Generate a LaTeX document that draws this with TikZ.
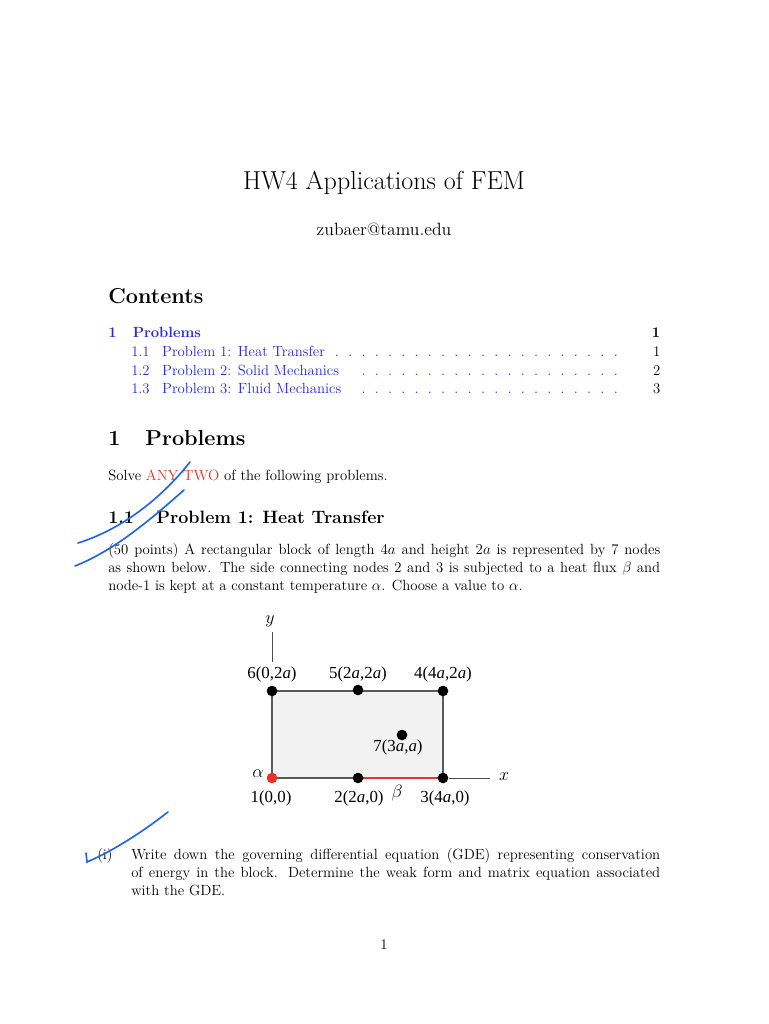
\documentclass[tikz,border=0pt]{standalone}
\usepackage{fontspec}
\newfontfamily\figfont{Liberation Serif}
\definecolor{lnk}{RGB}{40,40,230}
\definecolor{ink}{RGB}{30,100,230}
\definecolor{rd}{RGB}{235,50,40}
\newcommand{\nf}{\fontsize{11.8}{14}\selectfont}
\newcommand{\jl}[1]{\hbox to 441.6pt{#1}}
\newcommand{\jm}[1]{\hbox to 423.2pt{#1}}
\newcommand{\dotl}{\leaders\hbox to 0.9em{\hss.\hss}\hfill}
\begin{document}
\begin{tikzpicture}[x=0.8pt,y=-0.8pt,
  txt/.style={anchor=base west,inner sep=0,font=\nf},
  dot/.style={circle,fill=black,inner sep=0,minimum size=8.5pt},
  flab/.style={font=\figfont\fontsize{13.5}{15}\selectfont,inner sep=0,anchor=base}]
\useasboundingbox[fill=white] (0,0) rectangle (768,1024);
\node[inner sep=0,anchor=base,font=\fontsize{20.8}{24}\selectfont] (title) at (384,190) {HW4 Applications of FEM};
\node[inner sep=0,anchor=base,font=\fontsize{14.2}{17}\selectfont] (mail) at (384,235) {zubaer@tamu.edu};
\node[txt,font=\fontsize{17.3}{20}\selectfont\bfseries] (cont) at (108,303) {Contents};
\node[txt,text=lnk] (t1) at (108,337) {\hbox to 441.6pt{\bfseries 1\hspace{13pt}Problems\hfill\color{black}1}};
\node[txt,text=lnk] (t2) at (131,356) {\hbox to 423.2pt{1.1\hspace{10pt}Problem 1: Heat Transfer\ \dotl\hbox to 2em{\hfill\color{black}1}}};
\node[txt,text=lnk] (t3) at (131,375) {\hbox to 423.2pt{1.2\hspace{10pt}Problem 2: Solid Mechanics\ \dotl\hbox to 2em{\hfill\color{black}2}}};
\node[txt,text=lnk] (t4) at (131,393) {\hbox to 423.2pt{1.3\hspace{10pt}Problem 3: Fluid Mechanics\ \dotl\hbox to 2em{\hfill\color{black}3}}};
\node[txt,font=\fontsize{17.3}{20}\selectfont\bfseries] (sec) at (108,445) {1\hspace{20pt}Problems};
\node[txt] (solve) at (108,480) {Solve \textcolor{rd}{ANY TWO} of the following problems.};
\node[txt,font=\fontsize{14.3}{17}\selectfont\bfseries] (sub) at (108,523) {1.1\hspace{18pt}Problem 1: Heat Transfer};
\node[txt] (p1) at (108,554) {\jl{(50 points) A rectangular block of length $4a$ and height $2a$ is represented by 7 nodes}};
\node[txt] (p2) at (108,572) {\jl{as shown below. The side connecting nodes 2 and 3 is subjected to a heat flux $\beta$ and}};
\node[txt] (p3) at (108,590) {node-1 is kept at a constant temperature $\alpha$. Choose a value to $\alpha$.};
% figure
\draw[gray!70!black,fill=gray!10,line width=0.9pt] (272,691) rectangle (443,778);
\coordinate (ytop) at (272,632); \coordinate (ybot) at (272,662);
\coordinate (xr) at (490,778);
\draw[gray!60!black,line width=0.7pt] (ytop) -- (ybot);
\node[flab,font=\fontsize{13.5}{15}\selectfont] (ylab) at (270,623) {$y$};
\node[flab,font=\fontsize{13.5}{15}\selectfont] (xlab) at (504,780) {$x$};
\node[dot] (n6) at (272,691) {};
\node[dot] (n5) at (358,690) {};
\node[dot] (n4) at (443,691) {};
\node[dot] (n7) at (402,735) {};
\node[dot] (n2) at (358,778) {};
\node[dot] (n3) at (443,778) {};
\draw[rd,line width=1.6pt] (n2) -- (n3);
\draw[gray!60!black,line width=0.7pt] (n3) -- (xr);
\node[dot,fill=rd] (n1) at (272,778) {};
\node[flab] (l6) at (272,678) {6(0,2\textit{a})};
\node[flab] (l5) at (358,678) {5(2\textit{a},2\textit{a})};
\node[flab] (l4) at (443,678) {4(4\textit{a},2\textit{a})};
\node[flab] (l7) at (398,751) {7(3\textit{a},\textit{a})};
\node[flab,font=\fontsize{15}{17}\selectfont] (la) at (258,777) {$\alpha$};
\node[flab] (l1) at (271,802) {1(0,0)};
\node[flab] (l2) at (359,802) {2(2\textit{a},0)};
\node[flab,font=\fontsize{15}{17}\selectfont] (lb) at (397,797) {$\beta$};
\node[flab] (l3) at (445,802) {3(4\textit{a},0)};
% item
\node[txt] (ii) at (97,859) {(i)};
\node[txt] (i1) at (131,859) {\jm{Write down the governing differential equation (GDE) representing conservation}};
\node[txt] (i2) at (131,877) {\jm{of energy in the block. Determine the weak form and matrix equation associated}};
\node[txt] (i3) at (131,895) {with the GDE.};
\node[inner sep=0,anchor=base,font=\nf] (pg) at (384,949) {1};
% ink strokes
\draw[ink,line width=1.3pt,line cap=round] (78,543) .. controls (120,530) and (160,500) .. (190,462);
\draw[ink,line width=1.3pt,line cap=round] (75,566) .. controls (115,550) and (150,520) .. (184,490);
\draw[ink,line width=1.3pt,line cap=round] (86,853) -- (87,862) .. controls (115,850) and (145,830) .. (168,812);
\end{tikzpicture}
\end{document}
